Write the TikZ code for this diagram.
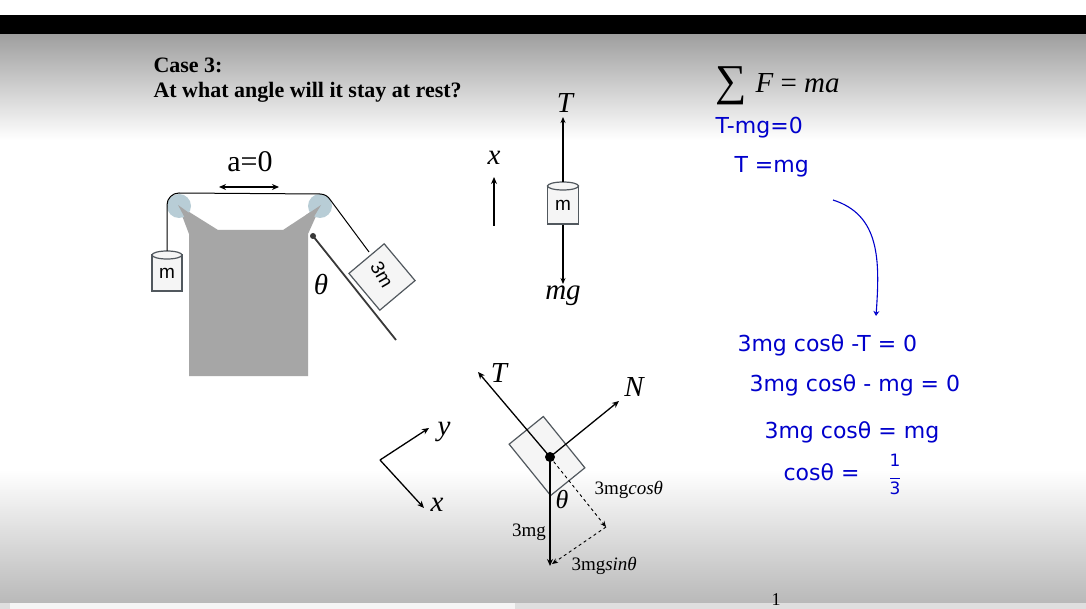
\documentclass[tikz,border=0pt]{standalone}
\usepackage{fontspec}
\setmainfont{Liberation Serif}
\setsansfont{Liberation Sans}
\newfontfamily\hand{DejaVu Sans}
\usetikzlibrary{arrows.meta}
\begin{document}
\begin{tikzpicture}[x=1pt,y=-1pt,
  cyl/.style={fill=gray!8,draw=gray!60!cyan!40!black,line width=1.2pt},
  frc/.style={line width=1.3pt,-{Stealth[length=7pt,width=6pt]}},
  dsh/.style={dashed,line width=0.9pt,-{Stealth[length=6pt,width=5pt]}},
  hw/.style={text=blue!80!black,font=\hand\fontsize{22}{24}\selectfont,anchor=west},
  it/.style={font=\itshape\fontsize{29}{31}\selectfont},
  bx/.style={font=\sffamily\fontsize{19}{19}\selectfont}]
\useasboundingbox (0,0) rectangle (1086,609);
\fill[white] (0,0) rectangle (1086,609);
\fill[black] (0,15) rectangle (1086,35);
\shade[top color=gray!75,bottom color=white] (0,35) rectangle (1086,140);
\shade[top color=white,bottom color=gray!55] (0,470) rectangle (1086,603);
\fill[gray!25] (0,603) rectangle (1086,609);
\fill[gray!8] (10,603) rectangle (515,609);
\node[font=\fontsize{18}{18}\selectfont] (pg) at (776,600) {1};
% title
\node[anchor=west,font=\bfseries\fontsize{22}{24}\selectfont] (t1) at (150,65) {Case 3:};
\node[anchor=west,font=\bfseries\fontsize{22}{24}\selectfont] (t2) at (150,92) {At what angle will it stay at rest?};
% apparatus
\node[font=\fontsize{30}{32}\selectfont] (a0) at (250,162) {a=0};
\coordinate (aL) at (219,187); \coordinate (aR) at (279,187);
\draw[line width=1.3pt,{Stealth[length=7pt,width=6pt,open]}-{Stealth[length=7pt,width=6pt,open]}] (aL) -- (aR);
\fill[gray!70] (189,376) -- (189,234) -- (178,205) -- (218,230) -- (283,230) -- (321,205) -- (308,234) -- (308,376) -- cycle;
\node[circle,fill=cyan!30!gray!50,minimum size=24pt,inner sep=0] (p1) at (179,206) {};
\node[circle,fill=cyan!30!gray!50,minimum size=24pt,inner sep=0] (p2) at (320,206) {};
\fill[gray!70] (178,205) -- (192,215) -- (186,220) -- cycle;
\fill[gray!70] (321,205) -- (306,215) -- (312,220) -- cycle;
\draw[line width=1.8pt,gray!45!black] (313,236) -- (396,340);
\fill[gray!45!black] (313,236) circle (3);
\node[cyl,bx,minimum width=30pt,minimum height=36pt,inner sep=0] (m1) at (167,273) {m};
\draw[cyl] (167,255) ellipse (15 and 4);
\node[draw=gray!60!cyan!40!black,fill=gray!8,line width=1.2pt,minimum width=48pt,minimum height=46pt,rotate=-50,inner sep=0] (b3) at (382,277) {};
\node[bx,rotate=-60,inner sep=0] (b3t) at (382,275) {3m};
\draw[line width=1pt] (167,251) -- (167,205) arc (180:270:12) -- (320,194) arc (270:330:12) -- (369,252);
\node[it] (th1) at (321,285) {θ};
% x arrow
\node[it] (xl) at (494,158) {x};
\coordinate (xa) at (494,226); \coordinate (xb) at (494,177);
\draw[frc] (xa) -- (xb);
% FBD 1
\node[cyl,bx,minimum width=31pt,minimum height=38pt,inner sep=0] (m2) at (563,205) {m};
\draw[cyl] (563,186) ellipse (15.5 and 4);
\node[it] (T1) at (565,103) {T};
\node[it] (mg) at (563,296) {mg};
\draw[line width=1.2pt,-{Stealth[length=6pt,width=5pt]}] (563,182) -- (563,117);
\draw[line width=1.2pt,-{Stealth[length=6pt,width=5pt]}] (m2.south) -- (563,284);
% equations
\node[anchor=west,font=\fontsize{44}{44}\selectfont] (sg) at (712,86) {∑};
\node[anchor=west,it] (sf) at (752,83) {F \upshape=\itshape\ ma};
\node[hw] (e1) at (712,128) {T-mg=0};
\node[hw] (e2) at (731,167) {T =mg};
\node[hw] (e3) at (734,345) {3mg cosθ -T = 0};
\node[hw] (e4) at (746,385) {3mg cosθ - mg = 0};
\node[hw] (e5) at (761,432) {3mg cosθ = mg};
\node[hw] (e6) at (780,472) {cosθ =};
\node[text=blue!80!black,font=\hand\fontsize{17}{17}\selectfont,align=center,inner sep=0] (e6f) at (895,474) {1\\[-4pt]\rule{10pt}{1pt}\\[-2pt]3};
\coordinate (c1) at (833,200); \coordinate (c2) at (876,316);
\draw[blue!80!black,line width=1.1pt,-{Stealth[length=5pt,width=6pt,open]}] (c1) .. controls (880,215) and (880,260) .. (c2);
% FBD 2
\node[draw=gray!60!cyan!40!black,fill=gray!8,line width=1.2pt,minimum width=66pt,minimum height=44pt,rotate=-51,inner sep=0] (b4) at (547,456) {};
\coordinate (O) at (550,457);
\coordinate (Te) at (478,372); \coordinate (Ne) at (619,401);
\coordinate (We) at (550,566); \coordinate (Ce) at (606,527); \coordinate (Se) at (552,564);
\draw[frc] (O) -- (Te);
\draw[frc] (O) -- (Ne);
\draw[frc] (O) -- (We);
\draw[dsh] (O) -- (Ce);
\draw[dsh] (Ce) -- (Se);
\fill (O) circle (5);
\node[it] (T2) at (499,373) {T};
\node[it] (N) at (634,387) {N};
\node[font=\itshape\fontsize{26}{28}\selectfont] (th2) at (562,500) {θ};
\node[anchor=west,font=\fontsize{19}{21}\selectfont] (lc) at (591,490) {3mg\itshape cosθ};
\node[font=\fontsize{19}{21}\selectfont] (lw) at (529,532) {3mg};
\node[anchor=west,font=\fontsize{19}{21}\selectfont] (ls) at (568,566) {3mg\itshape sinθ};
% axes
\coordinate (ax) at (380,460); \coordinate (ay) at (429,428); \coordinate (axx) at (424,508);
\draw[frc] (ax) -- (ay);
\draw[frc] (ax) -- (axx);
\node[it] (yl) at (444,432) {y};
\node[it] (xl2) at (437,505) {x};
\end{tikzpicture}
\end{document}
